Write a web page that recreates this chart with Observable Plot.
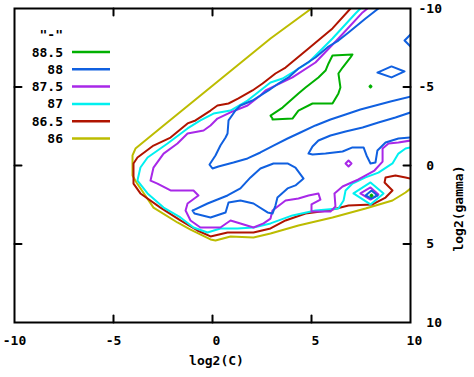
<!DOCTYPE html>
<html>
<head>
<meta charset="utf-8">
<script src="https://cdn.jsdelivr.net/npm/d3@7"></script>
<script src="https://cdn.jsdelivr.net/npm/@observablehq/plot@0.6"></script>
<style>
  html, body { margin: 0; padding: 0; background: #fff; }
</style>
</head>
<body>
<div id="chart"></div>
<script>
// ---- data: contour levels (accuracy %) ----
const levels = [88.5, 88, 87.5, 87, 86.5, 86];
const levelLabels = ["88.5", "88", "87.5", "87", "86.5", "86"];
const levelColors = ["#00b000", "#1060e0", "#a828e8", "#00f0f0", "#b01400", "#bcbc00"];
const legendTitle = '"-"';
const xTicks = [-10, -5, 0, 5, 10];
const yTicks = [-10, -5, 0, 5, 10];
const innerTicks = [-5, 0, 5];

// contour paths, [log2(C), log2(gamma)]
const contour86 = [[5.0,-10],[2.93,-8.09],[-2.47,-2.55],[-3.89,-1.08],[-4.04,-0.64],[-4.04,0.64],[-3.84,1.08],[-2.98,2.68],[-1.77,3.63],[-1.11,4.08],[-0.10,4.71],[0.15,4.78],[0.91,4.52],[2.07,4.59],[2.93,4.33],[4.34,3.82],[6.06,3.31],[7.73,2.74],[9.09,2.23],[9.75,1.72],[10,1.46]];

const contour865 = [[6.97,-10],[6.06,-8.73],[4.85,-7.45],[3.69,-6.24],[3.18,-5.86],[2.53,-5.22],[2.02,-4.78],[1.31,-4.27],[0.81,-3.95],[0.25,-3.82],[-0.10,-3.50],[-0.86,-2.87],[-1.26,-2.68],[-2.12,-1.78],[-2.98,-1.27],[-3.79,-0.51],[-3.99,-0.13],[-3.99,1.15],[-3.64,1.78],[-2.63,2.68],[-1.62,3.50],[-0.76,4.14],[-0.10,4.52],[0.76,4.27],[2.07,4.27],[2.93,4.01],[3.69,3.50],[4.70,3.06],[5.86,2.87],[6.87,2.55],[8.08,2.48],[8.74,2.04],[9.09,1.59],[8.69,1.08],[8.74,0.76],[9.24,0.64],[9.75,0.76],[10,0.83]];

const contour87 = [[7.47,-10],[7.22,-9.68],[6.06,-8.09],[4.85,-6.56],[3.54,-5.54],[2.93,-5.29],[1.77,-4.14],[0.91,-3.50],[0.05,-3.31],[-0.61,-2.87],[-1.26,-2.36],[-2.27,-1.40],[-3.28,-0.51],[-3.64,0.13],[-3.79,0.96],[-3.28,1.78],[-2.47,2.68],[-1.62,3.31],[-0.96,3.95],[-0.25,4.27],[0.40,4.01],[1.26,4.01],[2.07,3.95],[2.93,3.69],[4.04,3.18],[5.20,2.87],[6.36,2.74],[6.62,2.23],[6.72,1.59],[7.07,1.15],[7.73,0.76],[8.38,0.45],[9.09,-0.13],[9.39,-0.76],[9.75,-1.08],[10,-1.15]];
const contour87Ring = [[7.12,1.78],[7.98,1.08],[8.64,1.78],[7.98,2.48],[7.12,1.78]];

const contour875 = [[7.83,-10],[7.58,-9.75],[6.36,-8.09],[5.20,-6.56],[4.04,-5.61],[2.68,-4.78],[2.42,-4.46],[1.77,-3.82],[0.91,-3.38],[0.25,-2.99],[-0.10,-2.55],[-0.45,-2.23],[-1.26,-2.04],[-1.77,-1.40],[-2.47,-0.76],[-2.98,0.13],[-3.13,0.96],[-2.78,1.15],[-2.12,1.59],[-0.96,1.59],[-0.71,1.91],[-1.26,2.42],[-1.36,2.87],[-1.11,3.50],[-0.61,3.95],[0.40,3.95],[0.91,3.50],[1.41,3.69],[2.07,3.95],[2.58,3.69],[2.93,3.38],[3.03,2.87],[3.69,2.23],[4.34,2.10],[4.85,1.91],[5.35,1.78],[5.45,2.17],[5.00,2.48],[5.00,2.93],[5.96,2.93],[6.21,2.61],[6.16,1.78],[6.57,1.34],[7.37,0.89],[8.18,0.32],[8.59,-0.25],[8.59,-1.08],[8.89,-1.40],[9.39,-1.46],[10,-1.59]];
const contour875Small = [[6.72,-0.13],[6.87,-0.32],[7.02,-0.13],[6.87,0.06],[6.72,-0.13]];
const contour875Ring = [[7.47,1.78],[7.98,1.40],[8.38,1.85],[7.98,2.17],[7.47,1.78]];

const contour88Main = [[8.38,-10],[7.73,-9.36],[6.87,-8.47],[6.36,-7.96],[5.86,-7.58],[5.20,-6.88],[4.34,-6.18],[3.84,-5.61],[3.33,-5.22],[2.83,-4.78],[2.02,-4.14],[1.41,-3.82],[1.16,-3.50],[0.81,-2.87],[0.76,-2.04],[0.66,-1.78],[0.40,-1.27],[0.15,-0.64],[-0.15,-0.06],[0,0.19],[0.30,0.06],[1.06,-0.19],[1.77,-0.45],[2.42,-0.83],[3.08,-1.27],[3.79,-1.72],[4.44,-2.10],[5.20,-2.55],[5.96,-2.93],[6.72,-3.25],[7.47,-3.57],[8.23,-3.82],[8.99,-4.08],[10,-4.39]];
const contour88Tongue = [[10,-3.38],[9.24,-3.06],[8.38,-2.74],[7.58,-2.42],[6.72,-2.17],[5.96,-1.91],[5.35,-1.59],[5.05,-1.21],[4.85,-0.76],[5.05,-0.70],[5.71,-0.76],[6.57,-0.89],[7.07,-1.15],[7.63,-1.15],[7.78,-0.64],[7.98,-0.13],[8.23,-0.19],[8.33,-0.96],[8.74,-1.46],[9.39,-1.72],[10,-1.78]];
const contour88Loop = [[-1.01,2.87],[-0.25,2.42],[0.76,1.91],[1.41,1.46],[1.92,0.76],[2.42,0.19],[3.08,-0.13],[3.79,-0.13],[4.19,0.13],[4.60,0.83],[4.19,1.27],[3.79,1.46],[3.28,2.04],[3.18,2.55],[3.03,3.06],[2.78,2.99],[2.07,2.42],[1.41,2.23],[0.81,2.36],[0.66,2.99],[-0.10,3.31],[-0.91,3.06],[-1.01,2.87]];
const contour88Diamond = [[8.33,-5.92],[9.04,-6.31],[9.70,-5.99],[9.04,-5.61],[8.33,-5.92]];
const contour88Edge = [[10,-8.34],[9.70,-7.96],[10,-7.58]];
const contour88Ring = [[7.73,1.91],[8.03,1.59],[8.33,1.91],[8.03,2.10],[7.73,1.91]];

const contour885Main = [[3.03,-2.99],[2.93,-3.18],[3.54,-3.69],[4.34,-4.59],[4.70,-4.97],[5.35,-5.61],[5.71,-6.05],[5.86,-6.50],[6.06,-7.01],[7.07,-7.07],[6.97,-6.88],[6.57,-6.24],[6.36,-5.86],[6.46,-4.97],[6.36,-4.59],[6.06,-3.95],[5.05,-3.95],[4.34,-3.50],[4.04,-2.99],[3.03,-2.93],[3.03,-2.99]];
const contour885Dot = [[7.93,-5.03],[7.98,-5.10],[8.03,-5.03],[7.98,-4.97],[7.93,-5.03]];
const contour885Spot = [[7.98,1.91],[8.03,1.85],[8.08,1.91],[8.03,1.97],[7.98,1.91]];

// ---- build table for the line mark ----
const paths = [
  {level: 86, pts: contour86},
  {level: 86.5, pts: contour865},
  {level: 87, pts: contour87},
  {level: 87, pts: contour87Ring},
  {level: 87.5, pts: contour875},
  {level: 87.5, pts: contour875Small},
  {level: 87.5, pts: contour875Ring},
  {level: 88, pts: contour88Main},
  {level: 88, pts: contour88Tongue},
  {level: 88, pts: contour88Loop},
  {level: 88, pts: contour88Diamond},
  {level: 88, pts: contour88Edge},
  {level: 88, pts: contour88Ring},
  {level: 88.5, pts: contour885Main},
  {level: 88.5, pts: contour885Dot},
  {level: 88.5, pts: contour885Spot}
];
const rows = paths.flatMap((p, i) => p.pts.map(([C, g]) => ({id: i, level: p.level, C, g})));

const fmt = d => d < 0 ? "-" + (-d) : "\u00a0" + d;
const tickShape = {draw(context, l) { context.moveTo(0, 0); context.lineTo(0, -l); }};
const tickOpts = {length: 7, anchor: "start", shape: tickShape, stroke: "black", strokeWidth: 2};

const svg = Plot.plot({
  width: 474,
  height: 377,
  marginLeft: 14,
  marginRight: 64,
  marginTop: 8,
  marginBottom: 55,
  style: {fontFamily: "'DejaVu Sans Mono', monospace", fontWeight: "bold", fontSize: "13px", background: "#fff", color: "#000"},
  x: {domain: [-10, 10]},
  y: {domain: [-10, 10], reverse: true},
  color: {type: "ordinal", domain: levels, range: levelColors},
  marks: [
    Plot.line(rows, {x: "C", y: "g", z: "id", stroke: "level", strokeWidth: 2, clip: "frame"}),
    Plot.frame({stroke: "black", strokeWidth: 2}),
    Plot.vector(innerTicks, {x: d => d, frameAnchor: "bottom", rotate: 0, ...tickOpts}),
    Plot.vector(innerTicks, {x: d => d, frameAnchor: "top", rotate: 180, ...tickOpts}),
    Plot.vector(innerTicks, {y: d => d, frameAnchor: "left", rotate: 90, ...tickOpts}),
    Plot.vector(innerTicks, {y: d => d, frameAnchor: "right", rotate: -90, ...tickOpts}),
    Plot.axisX({ticks: xTicks, tickSize: 0, tickPadding: 13, label: null, tickFormat: fmt, fill: "black"}),
    Plot.axisY({anchor: "right", ticks: yTicks, tickSize: 0, tickPadding: 8, label: null, tickFormat: fmt, textAnchor: "start", fill: "black"}),
    Plot.text(["log2(C)"], {text: d => d, frameAnchor: "bottom", dx: 4, dy: 42, fill: "black"}),
    Plot.text(["log2(gamma)"], {text: d => d, frameAnchor: "right", dx: 48, rotate: -90, fill: "black"})
  ]
});

// ---- legend inside the plot area (top-left) ----
const lg = d3.select(svg).append("g")
  .attr("font-family", "'DejaVu Sans Mono', monospace")
  .attr("font-weight", "bold")
  .attr("font-size", 13);
const rowH = 17.3, y0 = 34.7, textRight = 63, lineX1 = 72, lineX2 = 110;
lg.append("text").attr("x", textRight).attr("y", y0).attr("dy", "0.35em")
  .attr("text-anchor", "end").attr("fill", "black").text(legendTitle);
levels.forEach((lv, i) => {
  const y = y0 + rowH * (i + 1);
  lg.append("text").attr("x", textRight).attr("y", y).attr("dy", "0.35em")
    .attr("text-anchor", "end").attr("fill", "black").text(levelLabels[i]);
  lg.append("line").attr("x1", lineX1).attr("x2", lineX2).attr("y1", y).attr("y2", y)
    .attr("stroke", levelColors[i]).attr("stroke-width", 2.5);
});

document.getElementById("chart").appendChild(svg);
</script>
</body>
</html>
